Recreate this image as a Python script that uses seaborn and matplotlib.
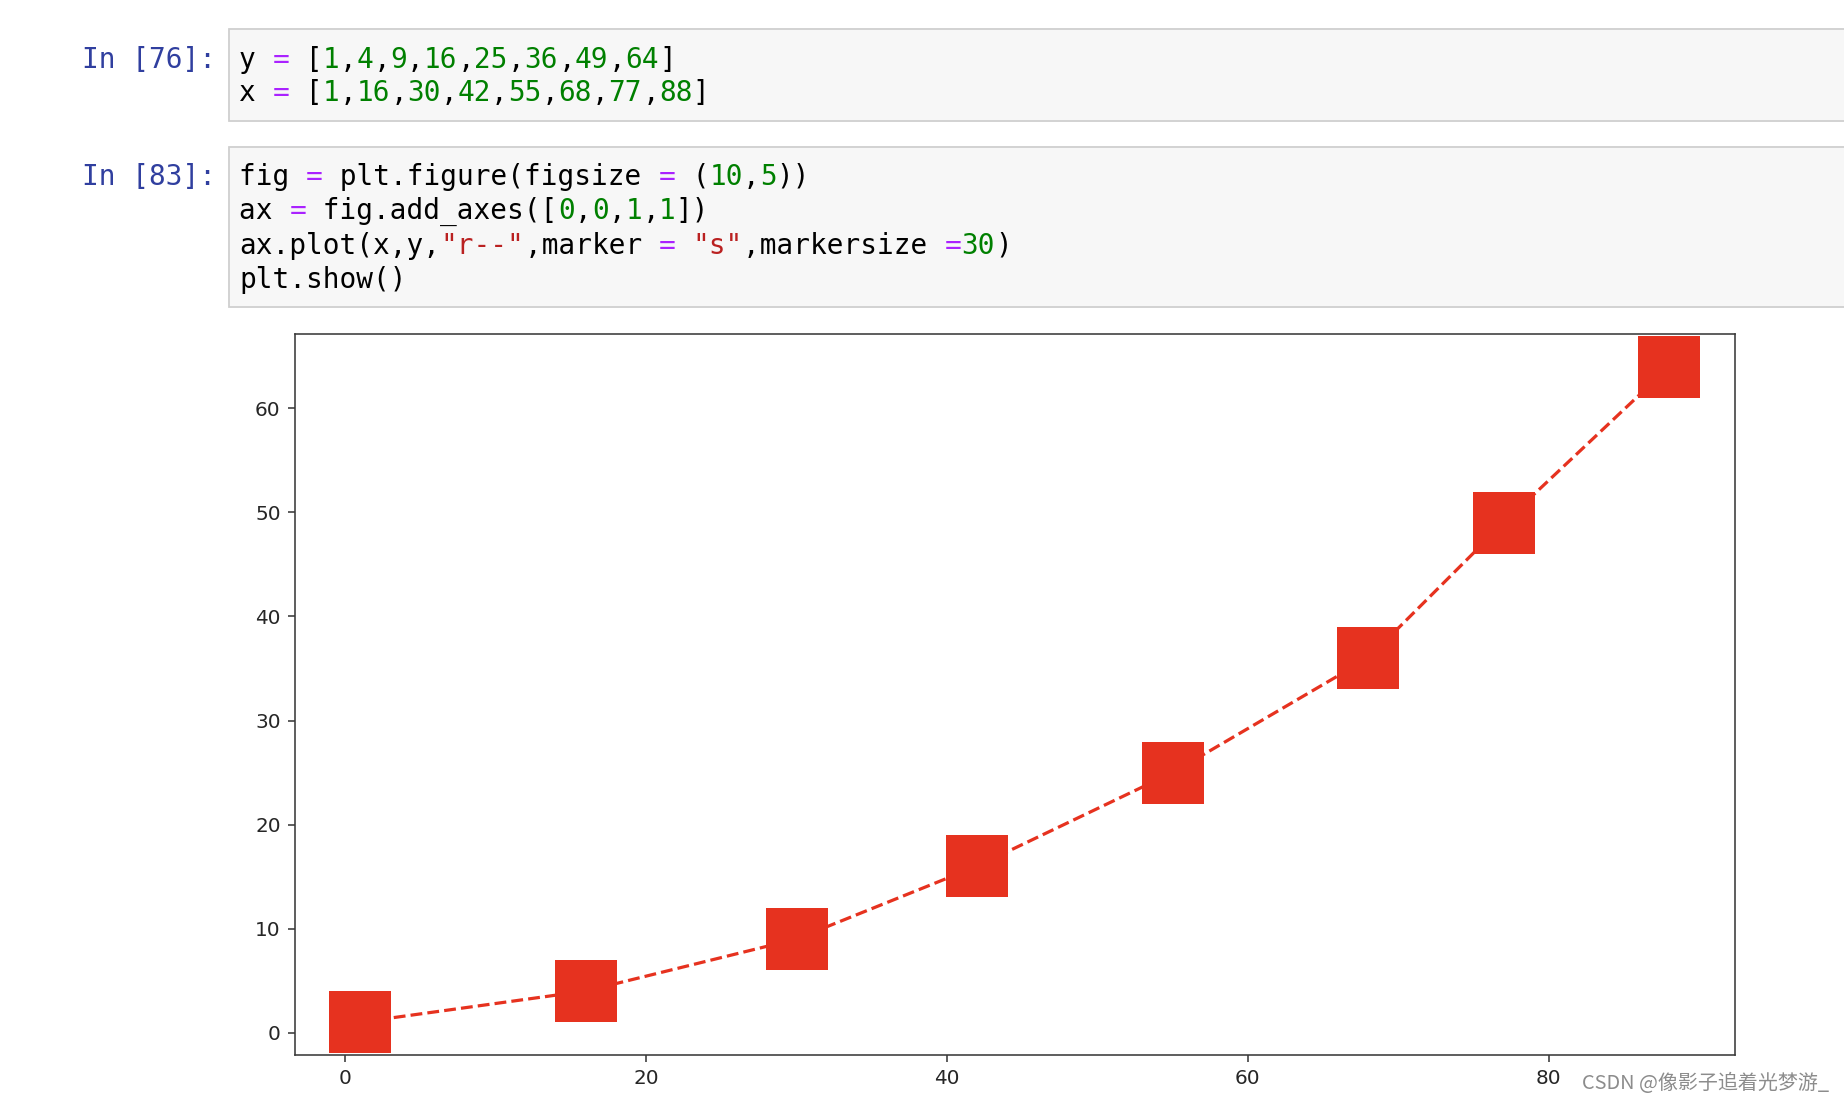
import matplotlib
matplotlib.use("Agg")
import matplotlib.pyplot as plt
import seaborn as sns

# data shown in the notebook
y = [1, 4, 9, 16, 25, 36, 49, 64]
x = [1, 16, 30, 42, 55, 68, 77, 88]
figsize_arg = [10, 5]
axes_rect = [0, 0, 1, 1]
marker_size = 30
prompts = ["In [76]:", "In [83]:"]
watermark = "CSDN @像影子追着光梦游_"

W, H, DPI = 1844, 1102, 144
RED = "#e6321f"
K, PURPLE, GREEN, STR = "#000000", "#aa22ff", "#008000", "#ba2121"
PROMPT = "#303f9f"
MONO = "DejaVu Sans Mono"

sns.set_theme(style="ticks", rc={
    "axes.edgecolor": "#3a3a3a",
    "axes.linewidth": 0.8,
    "xtick.color": "#3a3a3a",
    "ytick.color": "#3a3a3a",
    "xtick.labelcolor": "#262626",
    "ytick.labelcolor": "#262626",
    "xtick.labelsize": 10,
    "ytick.labelsize": 10,
    "xtick.major.size": 3.5,
    "ytick.major.size": 3.5,
    "xtick.major.width": 0.8,
    "ytick.major.width": 0.8,
})
plt.rcParams["font.family"] = ["DejaVu Sans", "Noto Sans CJK SC"]

fig = plt.figure(figsize=(W / DPI, H / DPI), dpi=DPI)


def fx(px):
    return px / W


def fy(py):
    return 1 - py / H


def nums(vals):
    toks = []
    for i, v in enumerate(vals):
        if i:
            toks.append((",", K))
        toks.append((str(v), GREEN))
    return toks


# notebook cells (pixel layout)
CHAR_W = 16.8
CODE_X = 239
cells = [
    (29, 121, prompts[0], [
        [("y ", K), ("=", PURPLE), (" [", K)] + nums(y) + [("]", K)],
        [("x ", K), ("=", PURPLE), (" [", K)] + nums(x) + [("]", K)],
    ], [60, 93]),
    (147, 307, prompts[1], [
        [("fig ", K), ("=", PURPLE), (" plt.figure(figsize ", K), ("=", PURPLE), (" (", K)]
        + nums(figsize_arg) + [("))", K)],
        [("ax ", K), ("=", PURPLE), (" fig.add_axes([", K)] + nums(axes_rect) + [("])", K)],
        [("ax.plot(x,y,", K), ('"r--"', STR), (",marker ", K), ("=", PURPLE), (" ", K),
         ('"s"', STR), (",markersize ", K), ("=", PURPLE), (str(marker_size), GREEN), (")", K)],
        [("plt.show()", K)],
    ], [177, 211, 246, 280]),
]

for top, bot, prompt, lines, ys in cells:
    fig.patches.append(plt.Rectangle((fx(229), fy(bot)), fx(W + 10 - 229), (bot - top) / H,
                                     transform=fig.transFigure, facecolor="#f7f7f7",
                                     edgecolor="#cfcfcf", lw=0.9, zorder=0))
    fig.text(fx(82), fy(ys[0]), prompt, color=PROMPT, family=MONO,
             fontsize=13.9, va="center", ha="left")
    for toks, ly in zip(lines, ys):
        n = 0
        for s, c in toks:
            fig.text(fx(CODE_X + n * CHAR_W), fy(ly), s, color=c, family=MONO,
                     fontsize=13.9, va="center", ha="left")
            n += len(s)

# the plot output
ax = fig.add_axes([fx(294.7), fy(1055), 1440 / W, 721 / H])
sns.lineplot(x=x, y=y, ax=ax, color=RED, linestyle="--", linewidth=1.6,
             marker="s", markersize=marker_size, markeredgecolor=RED,
             markeredgewidth=1, alpha=1)
ax.set(xlabel=None, ylabel=None)
ax.set_facecolor("white")

fig.text(fx(1829), fy(1083), watermark, ha="right", va="center", color="#8c8c8c",
         fontsize=10, family=["Noto Sans CJK SC", "DejaVu Sans"])

fig.savefig("out.png", dpi=DPI)
